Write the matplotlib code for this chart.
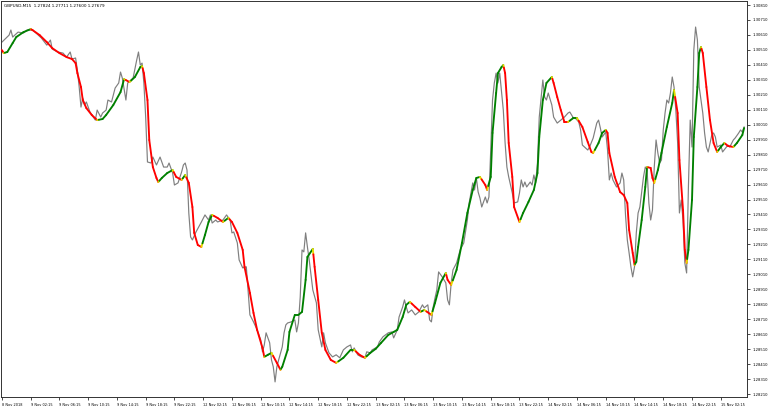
import numpy as np
import matplotlib
matplotlib.use('Agg')
import matplotlib.pyplot as plt
from matplotlib.collections import LineCollection

# GBPUSD M15 - close prices (bar index, price)
price_bars = [0, 4, 5, 6, 9, 12, 14, 17, 19, 22, 25, 27, 28, 31, 34, 36, 38, 39, 41, 42,
              43, 44, 45, 46, 47, 49, 52, 53, 55, 56, 58, 59, 61, 63, 65, 66, 67, 69, 70, 73,
              75, 76, 77, 78, 79, 80, 81, 83, 84, 86, 88, 90, 92, 93, 95, 96, 98, 100, 101, 102,
              103, 104, 105, 106, 108, 111, 113, 115, 116, 117, 119, 120, 123, 125, 127, 128, 129, 131, 132, 134,
              136, 138, 140, 142, 144, 145, 146, 147, 149, 150, 151, 152, 153, 154, 156, 157, 158, 159, 161, 163,
              164, 165, 166, 167, 168, 169, 170, 171, 172, 173, 175, 176, 178, 179, 180, 182, 184, 186, 188, 190,
              192, 194, 195, 196, 198, 200, 202, 203, 205, 206, 209, 210, 212, 215, 217, 218, 220, 221, 223, 224,
              225, 226, 228, 230, 232, 234, 235, 237, 238, 239, 240, 241, 242, 243, 245, 247, 248, 249, 250, 251,
              253, 255, 257, 259, 260, 262, 263, 264, 265, 266, 267, 269, 270, 271, 272, 273, 274, 275, 276, 277,
              279, 280, 281, 282, 284, 285, 287, 288, 289, 290, 291, 292, 294, 295, 296, 297, 298, 299, 301, 302,
              303, 304, 306, 307, 309, 311, 313, 315, 316, 318, 319, 321, 322, 323, 326, 327, 329, 331, 332, 333,
              334, 336, 337, 338, 339, 340, 342, 344, 345, 346, 347, 348, 349, 350, 351, 352, 353, 354, 355, 357,
              358, 359, 360, 361, 362, 363, 364, 365, 366, 367, 368, 369, 370, 371, 372, 373, 374, 375, 376, 377,
              378, 379, 380, 381, 382, 383, 384, 385, 386, 387, 388, 390, 391, 392, 393, 395, 396, 397, 398, 400,
              401, 404, 405, 407, 408, 410, 411, 412, 413]
close_prices = [1.30562, 1.30609, 1.30643, 1.30596, 1.30629, 1.30623, 1.30643, 1.30643, 1.30623, 1.30589,
                1.30542, 1.30576, 1.30516, 1.30496, 1.30489, 1.30462, 1.30496, 1.30449, 1.30456, 1.30375,
                1.30262, 1.30128, 1.30188, 1.30142, 1.30162, 1.30095, 1.30041, 1.30108, 1.30061, 1.30088,
                1.30108, 1.30175, 1.30162, 1.30255, 1.30289, 1.30362, 1.30322, 1.30175, 1.30289, 1.30322,
                1.30442, 1.30496, 1.30409, 1.30422, 1.30289, 1.30061, 1.29761, 1.29754, 1.29794, 1.29741,
                1.29794, 1.29727, 1.29727, 1.29754, 1.29687, 1.29607, 1.29621, 1.29694, 1.29741, 1.29754,
                1.29707, 1.29420, 1.29260, 1.29240, 1.29293, 1.29360, 1.29407, 1.29373, 1.29407, 1.29353,
                1.29373, 1.29360, 1.29373, 1.29407, 1.29373, 1.29287, 1.29293, 1.29220, 1.29106, 1.29053,
                1.29060, 1.28739, 1.28692, 1.28639, 1.28572, 1.28492, 1.28538, 1.28619, 1.28552, 1.28438,
                1.28392, 1.28291, 1.28392, 1.28438, 1.28525, 1.28619, 1.28672, 1.28685, 1.28692, 1.28705,
                1.28625, 1.28685, 1.28859, 1.29173, 1.29160, 1.29287, 1.29193, 1.29106, 1.29006, 1.28906,
                1.28819, 1.28639, 1.28525, 1.28619, 1.28552, 1.28485, 1.28458, 1.28472, 1.28452, 1.28505,
                1.28525, 1.28538, 1.28492, 1.28518, 1.28472, 1.28458, 1.28452, 1.28492, 1.28485, 1.28505,
                1.28525, 1.28558, 1.28592, 1.28619, 1.28625, 1.28585, 1.28639, 1.28725, 1.28792, 1.28839,
                1.28792, 1.28752, 1.28772, 1.28739, 1.28759, 1.28806, 1.28786, 1.28806, 1.28705, 1.28692,
                1.28792, 1.28852, 1.28906, 1.29026, 1.28993, 1.28953, 1.28839, 1.28806, 1.28953, 1.29040,
                1.29086, 1.29173, 1.29220, 1.29373, 1.29487, 1.29621, 1.29574, 1.29654, 1.29560, 1.29520,
                1.29460, 1.29527, 1.29487, 1.29527, 1.29841, 1.30175, 1.30289, 1.30355, 1.30289, 1.30355,
                1.30108, 1.29888, 1.29727, 1.29661, 1.29554, 1.29487, 1.29494, 1.29554, 1.29641, 1.29594,
                1.29627, 1.29594, 1.29627, 1.29607, 1.29674, 1.29621, 1.29754, 1.30061, 1.30309, 1.30195,
                1.30175, 1.30222, 1.30142, 1.30061, 1.30021, 1.30041, 1.30061, 1.30088, 1.30095, 1.30055,
                1.30055, 1.30028, 1.29975, 1.29874, 1.29841, 1.29861, 1.29921, 1.30021, 1.30041, 1.29988,
                1.29928, 1.29961, 1.29841, 1.29641, 1.29687, 1.29641, 1.29594, 1.29621, 1.29687, 1.29641,
                1.29407, 1.29240, 1.29153, 1.29060, 1.28993, 1.29060, 1.29287, 1.29420, 1.29460, 1.29661,
                1.29727, 1.29707, 1.29487, 1.29373, 1.29440, 1.29727, 1.29908, 1.29821, 1.29754, 1.29774,
                1.29975, 1.30088, 1.30175, 1.30155, 1.30222, 1.30329, 1.30262, 1.30108, 1.29888, 1.29420,
                1.29507, 1.29373, 1.29086, 1.29019, 1.29594, 1.30041, 1.29861, 1.30509, 1.30663, 1.30576,
                1.30262, 1.30088, 1.29955, 1.29861, 1.29828, 1.29941, 1.29955, 1.29928, 1.29861, 1.29874,
                1.29828, 1.29874, 1.29861, 1.29908, 1.29921, 1.29955, 1.29975, 1.29961, 1.29995]

# smoothed trend indicator (bar index, value)
trend_bars = [0, 1, 3, 6, 8, 12, 16, 17, 21, 25, 28, 32, 36, 39, 41, 42, 44, 45, 47, 50,
              53, 56, 58, 62, 66, 68, 71, 74, 77, 78, 79, 81, 82, 84, 86, 87, 89, 92, 95, 97,
              100, 102, 104, 106, 107, 109, 111, 113, 115, 117, 120, 123, 126, 128, 131, 134, 135, 138, 140, 142,
              145, 146, 148, 150, 153, 155, 156, 159, 160, 163, 165, 167, 169, 170, 173, 174, 176, 178, 180, 183,
              186, 190, 194, 196, 199, 202, 205, 208, 211, 215, 218, 220, 223, 225, 227, 230, 233, 235, 239, 241,
              244, 247, 248, 250, 253, 256, 259, 262, 264, 266, 269, 270, 272, 273, 275, 276, 278, 279, 280, 281,
              282, 284, 285, 288, 290, 293, 296, 298, 299, 301, 303, 306, 307, 309, 311, 313, 315, 318, 320, 323,
              326, 328, 329, 332, 334, 336, 337, 338, 341, 344, 346, 348, 349, 351, 352, 353, 354, 356, 358, 359,
              361, 362, 363, 365, 367, 370, 373, 374, 376, 377, 379, 380, 381, 382, 384, 385, 387, 388, 389, 390,
              392, 394, 396, 398, 400, 402, 404, 407, 409, 412, 413]
trend_values = [1.30509, 1.30489, 1.30496, 1.30556, 1.30596, 1.30629, 1.30649, 1.30643, 1.30609, 1.30562,
                1.30522, 1.30489, 1.30462, 1.30449, 1.30422, 1.30355, 1.30262, 1.30175, 1.30121, 1.30075,
                1.30041, 1.30048, 1.30075, 1.30142, 1.30228, 1.30315, 1.30295, 1.30329, 1.30395, 1.30402,
                1.30355, 1.30175, 1.29908, 1.29727, 1.29654, 1.29627, 1.29654, 1.29687, 1.29707, 1.29661,
                1.29641, 1.29674, 1.29621, 1.29460, 1.29287, 1.29206, 1.29193, 1.29273, 1.29360, 1.29407,
                1.29387, 1.29360, 1.29387, 1.29360, 1.29287, 1.29173, 1.29060, 1.28886, 1.28752, 1.28639,
                1.28518, 1.28458, 1.28472, 1.28485, 1.28418, 1.28372, 1.28392, 1.28505, 1.28625, 1.28739,
                1.28739, 1.28759, 1.28973, 1.29126, 1.29180, 1.29060, 1.28839, 1.28619, 1.28505, 1.28438,
                1.28418, 1.28452, 1.28505, 1.28505, 1.28472, 1.28452, 1.28485, 1.28512, 1.28552, 1.28605,
                1.28625, 1.28639, 1.28725, 1.28806, 1.28826, 1.28792, 1.28759, 1.28772, 1.28739, 1.28819,
                1.28953, 1.29019, 1.28973, 1.28939, 1.29040, 1.29220, 1.29420, 1.29574, 1.29654, 1.29661,
                1.29607, 1.29574, 1.29661, 1.29955, 1.30222, 1.30355, 1.30395, 1.30409, 1.30355, 1.30175,
                1.29888, 1.29661, 1.29460, 1.29360, 1.29420, 1.29494, 1.29574, 1.29687, 1.29928, 1.30175,
                1.30289, 1.30329, 1.30289, 1.30195, 1.30108, 1.30028, 1.30028, 1.30055, 1.30055, 1.29995,
                1.29894, 1.29828, 1.29821, 1.29888, 1.29955, 1.29975, 1.29955, 1.29821, 1.29661, 1.29560,
                1.29540, 1.29487, 1.29307, 1.29153, 1.29073, 1.29093, 1.29193, 1.29373, 1.29594, 1.29727,
                1.29721, 1.29654, 1.29621, 1.29707, 1.29821, 1.29995, 1.30155, 1.30242, 1.30088, 1.29774,
                1.29440, 1.29173, 1.29086, 1.29173, 1.29507, 1.29928, 1.30262, 1.30489, 1.30529, 1.30489,
                1.30262, 1.30041, 1.29888, 1.29828, 1.29861, 1.29888, 1.29868, 1.29861, 1.29888, 1.29941,
                1.29988]

x_tick_labels = ['8 Nov 2018', '9 Nov 02:15', '9 Nov 06:15', '9 Nov 10:15', '9 Nov 14:15',
                 '9 Nov 18:15', '9 Nov 22:15', '12 Nov 02:15', '12 Nov 06:15', '12 Nov 10:15',
                 '12 Nov 14:15', '12 Nov 18:15', '12 Nov 22:15', '13 Nov 02:15', '13 Nov 06:15',
                 '13 Nov 10:15', '13 Nov 14:15', '13 Nov 18:15', '13 Nov 22:15', '14 Nov 02:15',
                 '14 Nov 06:15', '14 Nov 10:15', '14 Nov 14:15', '14 Nov 18:15', '14 Nov 22:15',
                 '15 Nov 02:15']
bars_per_label = 16
y_ticks = [1.28210, 1.28310, 1.28410, 1.28510, 1.28610, 1.28710, 1.28810, 1.28910, 1.29010,
           1.29110, 1.29210, 1.29310, 1.29410, 1.29510, 1.29610, 1.29710, 1.29810, 1.29910,
           1.30010, 1.30110, 1.30210, 1.30310, 1.30410, 1.30510, 1.30610, 1.30710, 1.30810]
header = 'GBPUSD,M15  1.27824 1.27711 1.27600 1.27679'

fig = plt.figure(figsize=(7.68, 4.07), dpi=100)
ax = fig.add_axes([1/768, 10/407, 746/768, 396/407])

# close line
ax.plot(price_bars, close_prices, color='#7f7f7f', lw=0.85, zorder=2)

# trend line: green up, red down, short yellow piece where it turns
tb = np.array(trend_bars, dtype=float)
tv = np.array(trend_values)
segs, cols = [], []
prev = 0
for i in range(len(tb) - 1):
    d = np.sign(tv[i + 1] - tv[i])
    if d == 0:
        d = prev
    p0 = (tb[i], tv[i])
    p1 = (tb[i + 1], tv[i + 1])
    if prev != 0 and d != prev:
        # turning point -> first bit yellow
        mid = (tb[i] + 0.3 * (tb[i + 1] - tb[i]), tv[i] + 0.3 * (tv[i + 1] - tv[i]))
        segs.append([p0, mid]); cols.append('#e6dc00')
        segs.append([mid, p1])
    else:
        segs.append([p0, p1])
    cols.append('#008000' if d > 0 else '#ff0000')
    prev = d
lc = LineCollection(segs, colors=cols, linewidths=1.35, capstyle='round', zorder=3)
ax.add_collection(lc)

ax.set_xlim(-0.5, 414.6)
ax.set_ylim(1.28190, 1.30837)

ax.yaxis.tick_right()
ax.set_yticks(y_ticks)
ax.set_yticklabels(['%.5f' % v for v in y_ticks])
ax.set_xticks([i * bars_per_label for i in range(len(x_tick_labels))])
ax.set_xticklabels(x_tick_labels)
for lbl in ax.get_xticklabels():
    lbl.set_horizontalalignment('left')
ax.tick_params(axis='both', direction='out', length=2.5, width=0.5, labelsize=2.7,
               pad=1.2, colors='black')
ax.tick_params(axis='x', labelsize=2.5, pad=1.5)

for s in ax.spines.values():
    s.set_color('#333333')
    s.set_linewidth(0.7)

fig.text(4/768, 1 - 6/407, header, fontsize=3.0, va='center', ha='left', color='black')

fig.savefig('out.png', dpi=100)
